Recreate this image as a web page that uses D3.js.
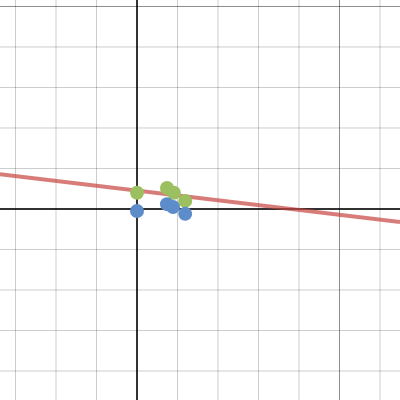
<!DOCTYPE html>
<html>
<head>
<meta charset="UTF-8">
<script src="https://cdn.jsdelivr.net/npm/d3@7"></script>
<style>body{margin:0;background:#fff}</style>
</head>
<body>
<div id="container"></div>
<script>
const width = 400, height = 400;

// data in graph units
const greenX = [0, 0.74, 0.91, 1.19];
const greenY = [0.40, 0.52, 0.40, 0.20];
const blueX = [0, 0.74, 0.89, 1.19];
const blueY = [-0.05, 0.12, 0.05, -0.12];
const lineSlope = -0.12;
const lineIntercept = 0.455;

const x = d3.scaleLinear().domain([-3.383, 6.494]).range([0, width]);
const y = d3.scaleLinear().domain([-4.716, 5.16]).range([height, 0]);

const svg = d3.create("svg").attr("width", width).attr("height", height);

// minor grid
const xt = d3.range(-3, 7), yt = d3.range(-4, 6);
svg.selectAll(".vx").data(xt).join("line")
    .attr("x1", d => x(d)).attr("x2", d => x(d))
    .attr("y1", 0).attr("y2", height)
    .attr("stroke", "#000")
    .attr("stroke-opacity", d => d % 5 === 0 ? 0.45 : 0.2);
svg.selectAll(".hy").data(yt).join("line")
    .attr("y1", d => y(d)).attr("y2", d => y(d))
    .attr("x1", 0).attr("x2", width)
    .attr("stroke", "#000")
    .attr("stroke-opacity", d => d % 5 === 0 ? 0.45 : 0.2);

// axes
svg.append("line").attr("x1", x(0)).attr("x2", x(0)).attr("y1", 0).attr("y2", height)
    .attr("stroke", "#000").attr("stroke-width", 1.5);
svg.append("line").attr("y1", y(0)).attr("y2", y(0)).attr("x1", 0).attr("x2", width)
    .attr("stroke", "#000").attr("stroke-width", 1.5);

// regression line
const xd = x.domain();
svg.append("line")
    .attr("x1", x(xd[0])).attr("y1", y(lineIntercept + lineSlope * xd[0]))
    .attr("x2", x(xd[1])).attr("y2", y(lineIntercept + lineSlope * xd[1]))
    .attr("stroke", "#c74440").attr("stroke-opacity", 0.7).attr("stroke-width", 4);

// points
svg.selectAll(".g").data(greenX).join("circle")
    .attr("cx", d => x(d)).attr("cy", (d, i) => y(greenY[i])).attr("r", 7)
    .attr("fill", "#9cbf60");
svg.selectAll(".b").data(blueX).join("circle")
    .attr("cx", d => x(d)).attr("cy", (d, i) => y(blueY[i])).attr("r", 7)
    .attr("fill", "#5d8ccb");

document.getElementById("container").appendChild(svg.node());
</script>
</body>
</html>
